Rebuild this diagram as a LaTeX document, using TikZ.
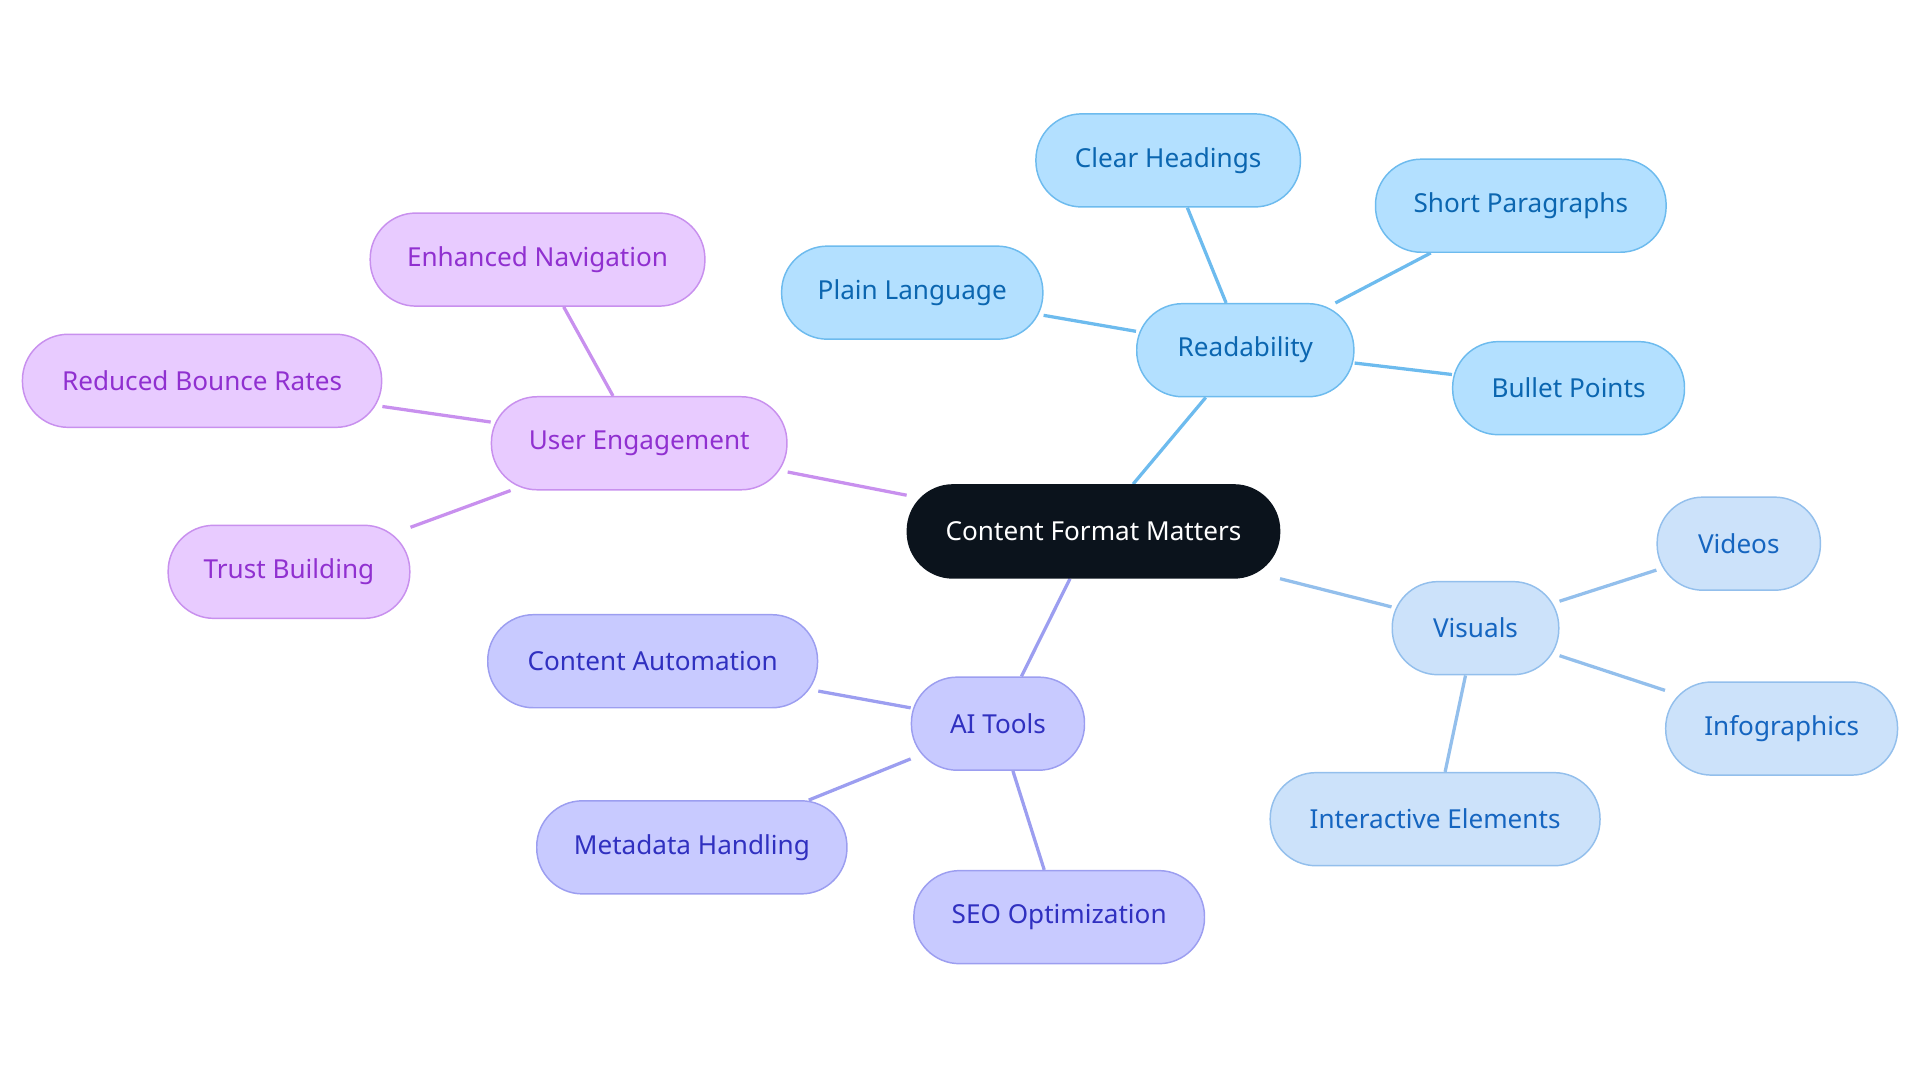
\documentclass[tikz,border=0pt]{standalone}
\usepackage{fontspec}
\setmainfont{Noto Sans}
\usetikzlibrary{backgrounds}
\definecolor{rootfill}{HTML}{0B131C}
\definecolor{readfill}{HTML}{B3E0FF}\definecolor{readline}{HTML}{6DBBEE}\definecolor{readtext}{HTML}{0B66B0}
\definecolor{visfill}{HTML}{CCE2FA}\definecolor{visline}{HTML}{93BFEC}\definecolor{vistext}{HTML}{1565C0}
\definecolor{aifill}{HTML}{C8CAFF}\definecolor{ailine}{HTML}{9C9EF0}\definecolor{aitext}{HTML}{3030C0}
\definecolor{ufill}{HTML}{E8CBFF}\definecolor{uline}{HTML}{C890EE}\definecolor{utext}{HTML}{9030D0}
\tikzset{
  box/.style={rounded corners=28pt, minimum height=57pt, line width=0.9pt, inner sep=0pt,
    font=\fontsize{16}{19}\selectfont},
  root/.style={box, fill=rootfill, draw=rootfill, text=white},
  read/.style={box, fill=readfill, draw=readline, text=readtext},
  vis/.style={box, fill=visfill, draw=visline, text=vistext},
  ai/.style={box, fill=aifill, draw=ailine, text=aitext},
  user/.style={box, fill=ufill, draw=uline, text=utext},
  link/.style={line width=2pt}
}
\begin{document}
\begin{tikzpicture}[x=0.75pt,y=0.75pt,yscale=-1,xscale=1]
\useasboundingbox (0,0) rectangle (1568,884);

% Root
\node[root, minimum width=228pt] (cfm) at (893,434) {Content Format Matters};

% Readability branch
\node[read, minimum width=133pt] (read) at (1017,286) {Readability};
\node[read, minimum width=162pt] (head) at (954,131) {Clear Headings};
\node[read, minimum width=178pt] (para) at (1242,168) {Short Paragraphs};
\node[read, minimum width=160pt] (plain) at (745,239) {Plain Language};
\node[read, minimum width=142pt] (bullet) at (1281,317) {Bullet Points};

% Visuals branch
\node[vis, minimum width=102pt] (vis) at (1205,513) {Visuals};
\node[vis, minimum width=100pt] (video) at (1420,444) {Videos};
\node[vis, minimum width=142pt] (info) at (1455,595) {Infographics};
\node[vis, minimum width=202pt] (inter) at (1172,669) {Interactive Elements};

% AI branch
\node[ai, minimum width=106pt] (ai) at (815,591) {AI Tools};
\node[ai, minimum width=202pt] (auto) at (533,540) {Content Automation};
\node[ai, minimum width=190pt] (meta) at (565,692) {Metadata Handling};
\node[ai, minimum width=178pt] (seo) at (865,749) {SEO Optimization};

% User branch
\node[user, minimum width=181pt] (user) at (522,362) {User Engagement};
\node[user, minimum width=205pt] (nav) at (439,212) {Enhanced Navigation};
\node[user, minimum width=220pt] (bounce) at (165,311) {Reduced Bounce Rates};
\node[user, minimum width=148pt] (trust) at (236,467) {Trust Building};

\begin{scope}[on background layer]
\draw[link, readline] (cfm) -- (read);
\foreach \n in {head,para,plain,bullet} \draw[link, readline] (read) -- (\n);
\draw[link, visline] (cfm) -- (vis);
\foreach \n in {video,info,inter} \draw[link, visline] (vis) -- (\n);
\draw[link, ailine] (cfm) -- (ai);
\foreach \n in {auto,meta,seo} \draw[link, ailine] (ai) -- (\n);
\draw[link, uline] (cfm) -- (user);
\foreach \n in {nav,bounce,trust} \draw[link, uline] (user) -- (\n);
\end{scope}
\end{tikzpicture}
\end{document}
